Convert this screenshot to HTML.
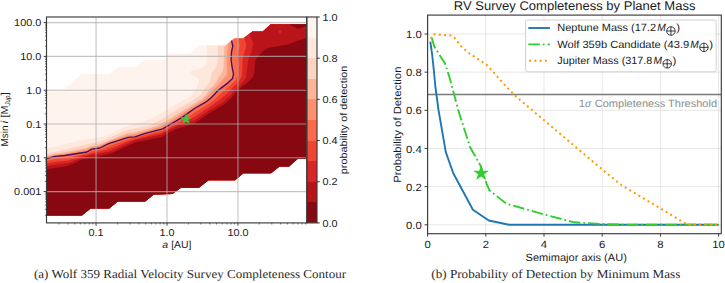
<!DOCTYPE html>
<html><head><meta charset="utf-8"><title>Wolf 359 RV completeness</title>
<style>html,body{margin:0;padding:0;background:#fff;overflow:hidden;}svg{display:block;}text{text-rendering:geometricPrecision;}text{font-family:"Liberation Sans",sans-serif;}</style>
</head><body>
<svg width="725" height="283" viewBox="0 0 725 283">
<rect width="725" height="283" fill="#fff"/>
<defs><clipPath id="cc"><polygon points="45.5,89.2 46.5,89.2 64.3,89.2 81.8,74.0 109.9,73.9 118.4,66.8 136.0,66.8 143.8,60.1 165.0,60.1 169.0,53.3 189.8,53.3 198.9,45.6 225.4,45.6 234.2,38.5 243.0,38.5 252.5,31.4 262.8,31.4 270.7,24.3 306.7,24.3 307.7,24.3 307.7,159.1 306.7,159.1 297.5,159.1 289.0,166.5 279.5,166.5 271.0,173.3 243.4,173.3 235.0,180.3 208.5,180.3 198.9,187.7 180.9,187.7 172.4,194.1 153.8,194.4 145.2,201.6 117.9,201.6 109.2,208.5 90.6,208.5 81.9,215.5 46.5,215.5 45.5,215.5"/></clipPath>
<clipPath id="la"><rect x="46.5" y="17.0" width="260.2" height="205.9"/></clipPath></defs>
<g clip-path="url(#la)"><g clip-path="url(#cc)">
<rect x="0" y="0" width="400" height="300" fill="#fff3ed"/>
<path d="M207.0 15.0L309.0 15.0L309.0 225.0L44.5 225.0L44.5 148.8L46.5 148.8L80.0 140.5L105.0 136.4L125.0 126.8L144.5 121.2L155.0 117.0L180.0 102.0L190.0 97.0L195.2 90.0L199.5 81.5L197.5 77.8L191.4 74.5L191.0 74.0L190.6 71.0L201.0 68.4L206.0 64.3L206.5 63.5L206.5 55.0L207.0 50.0L206.8 15.0Z" fill="#fee7dc"/>
<path d="M218.5 15.0L309.0 15.0L309.0 225.0L44.5 225.0L44.5 153.7L46.0 153.6L60.0 151.0L79.0 146.2L105.0 140.0L125.0 130.5L143.9 127.0L147.1 126.0L155.0 123.0L170.0 114.0L180.0 107.5L190.0 102.0L199.5 96.0L204.8 88.0L210.0 81.5L211.7 73.0L217.1 65.5L218.0 58.0L218.0 50.0L218.5 40.0L218.2 39.5L218.2 38.5L218.1 15.0Z" fill="#fdd3c1"/>
<path d="M218.5 15.0L309.0 15.0L309.0 225.0L44.5 225.0L44.5 155.6L46.0 155.7L47.5 155.5L55.0 153.8L63.8 152.5L85.5 148.0L90.0 146.2L98.5 144.5L105.5 142.0L109.5 140.2L126.0 133.6L133.5 132.5L145.8 129.5L156.5 126.0L161.0 124.0L171.9 117.5L182.5 110.7L202.3 98.5L206.0 94.5L215.5 83.1L219.2 76.5L222.0 73.3L223.5 68.0L223.9 51.5L224.5 46.0L224.1 39.5L223.5 36.3L222.0 32.1L220.0 28.5L218.5 26.5L218.4 15.0Z" fill="#fcb499"/>
<path d="M231.5 15.0L309.0 15.0L309.0 225.0L44.5 225.0L44.5 157.7L46.0 157.0L54.5 155.0L64.5 153.7L86.0 149.7L91.0 147.4L99.0 145.9L109.5 141.5L126.2 135.5L128.0 135.0L134.5 134.2L147.0 130.8L158.5 127.3L162.0 125.9L174.0 118.8L193.0 106.4L204.0 99.8L207.9 96.0L214.9 88.0L218.0 85.0L223.5 78.4L226.5 75.2L226.8 74.5L227.2 70.0L226.8 60.5L227.0 53.3L227.9 46.0L227.0 36.8L227.5 34.5L228.5 32.5L229.5 31.4L231.0 30.2L231.1 15.0Z" fill="#fc9070"/>
<path d="M231.5 15.0L309.0 15.0L309.0 225.0L44.5 225.0L44.5 158.8L46.5 158.7L55.0 156.4L66.0 155.3L86.7 152.0L91.5 149.3L99.5 148.0L109.0 143.4L127.0 137.8L128.5 137.4L135.8 136.5L144.5 133.6L162.0 129.0L176.1 121.0L182.5 117.0L194.5 108.5L205.5 102.3L209.1 99.5L214.8 94.0L217.5 90.9L228.2 82.5L232.3 78.5L232.6 78.0L233.5 74.0L232.1 67.0L231.1 60.0L231.5 52.0L232.8 46.0L231.3 37.5L231.3 15.0Z" fill="#fb6b4b"/>
<path d="M231.5 15.0L309.0 15.0L309.0 225.0L44.5 225.0L44.5 160.8L46.0 161.2L47.0 161.1L55.5 159.1L68.0 157.8L78.0 155.2L87.0 153.4L92.5 151.1L100.5 149.7L110.5 145.7L128.5 139.3L135.5 137.8L145.0 135.1L160.5 131.3L163.0 130.4L174.5 123.8L185.0 118.5L191.9 114.5L196.5 111.3L207.5 104.6L212.0 101.4L217.5 96.7L220.5 93.7L224.5 90.5L230.1 85.5L235.3 80.5L236.1 79.0L237.8 74.5L237.0 59.5L237.7 53.0L239.4 47.0L239.5 45.0L237.4 36.0L236.6 34.0L234.5 31.2L231.5 29.0L231.4 15.0Z" fill="#f14432"/>
<path d="M249.0 15.0L309.0 15.0L309.0 225.0L44.5 225.0L44.5 164.0L56.0 161.8L68.5 160.4L78.3 157.0L84.5 155.2L88.0 154.5L93.0 152.9L101.0 151.4L110.0 148.9L129.0 141.0L134.5 139.2L161.5 132.8L175.5 125.2L183.5 122.0L193.5 117.4L213.7 104.0L220.0 99.5L227.1 93.5L233.3 87.0L237.5 83.0L240.2 79.5L241.8 76.0L242.2 73.0L242.7 59.5L243.8 54.0L245.6 49.0L246.3 44.0L244.2 38.0L242.2 29.5L242.1 26.0L242.7 23.5L243.8 21.0L246.0 18.2L248.5 16.4L248.5 15.0Z" fill="#d92523"/>
<path d="M249.0 15.0L309.0 15.0L309.0 225.0L44.5 225.0L44.5 166.3L46.0 166.3L46.5 166.0L60.0 164.0L69.5 162.9L79.0 158.6L85.0 156.5L110.5 151.4L135.0 140.3L162.0 134.6L168.5 130.6L176.5 126.6L184.5 124.1L195.0 120.2L209.0 110.6L223.0 102.0L230.0 96.1L235.5 89.5L240.0 85.2L243.5 81.5L245.9 77.5L248.0 62.0L249.5 56.0L251.9 51.0L253.4 43.0L250.5 37.0L249.0 30.0L248.9 15.0Z" fill="#b81419"/>
<path d="M306.0 38.1L306.5 38.0L306.9 38.5L307.0 39.0L307.5 39.5L307.5 40.0L308.0 40.5L308.0 41.5L308.5 42.0L308.5 43.0L309.0 43.5L309.0 44.6L309.0 225.0L44.5 225.0L44.5 169.2L46.5 169.4L60.0 167.0L65.5 166.4L75.5 162.7L80.8 160.0L84.0 159.0L86.5 158.4L95.0 157.3L110.5 153.8L135.0 142.5L162.0 136.9L169.0 132.5L176.0 129.0L185.0 126.4L195.0 123.0L208.9 113.5L223.5 104.7L230.5 99.0L236.0 92.2L239.8 88.5L250.5 80.0L253.0 77.0L254.3 73.0L255.4 60.0L259.7 54.5L263.0 51.2L267.5 48.2L268.5 47.8L280.0 46.0L280.5 45.7L282.5 45.5L283.0 45.2L285.0 45.0L285.5 44.7L287.5 44.5L288.0 44.2L289.5 44.0L290.0 43.6L292.0 43.0L292.5 42.6L294.5 42.0L295.0 41.6L296.0 41.5L296.5 41.1L297.5 41.0L298.0 40.6L299.0 40.5L301.5 39.6L302.4 39.5L303.0 39.1L304.0 39.0L304.5 38.6L305.5 38.5Z" fill="#880811"/>
<polygon points="289,24.2 298,28.7 306.7,26 306.7,24" fill="#880811"/>
<polygon points="277.5,30.5 282.5,30.5 280,34" fill="#d92523"/>
</g>
<polyline points="46.5,158.7 55.1,156.3 64.7,155.5 86.9,152.0 91.7,149.2 99.6,148.0 109.2,143.3 128.3,137.4 135.0,136.8 144.5,133.6 154.0,131.2 162.8,128.8 169.2,124.9 176.3,120.9 182.7,116.9 194.5,108.5 205.6,102.2 209.9,98.9 214.8,94.0 217.6,90.8 222.6,86.9 228.2,82.6 232.5,78.4 233.5,74.1 232.1,67.1 231.1,60.0 231.5,52.0 232.8,46.0 231.5,40.6" fill="none" stroke="#45105e" stroke-width="1.35" stroke-linejoin="round"/>
<line x1="96.05" y1="17.0" x2="96.05" y2="222.9" stroke="#b0b0b0" stroke-opacity="0.75" stroke-width="1.1"/>
<line x1="167.00" y1="17.0" x2="167.00" y2="222.9" stroke="#b0b0b0" stroke-opacity="0.75" stroke-width="1.1"/>
<line x1="237.95" y1="17.0" x2="237.95" y2="222.9" stroke="#b0b0b0" stroke-opacity="0.75" stroke-width="1.1"/>
<line x1="46.5" y1="22.60" x2="306.7" y2="22.60" stroke="#b0b0b0" stroke-opacity="0.75" stroke-width="1.1"/>
<line x1="46.5" y1="56.40" x2="306.7" y2="56.40" stroke="#b0b0b0" stroke-opacity="0.75" stroke-width="1.1"/>
<line x1="46.5" y1="90.20" x2="306.7" y2="90.20" stroke="#b0b0b0" stroke-opacity="0.75" stroke-width="1.1"/>
<line x1="46.5" y1="124.00" x2="306.7" y2="124.00" stroke="#b0b0b0" stroke-opacity="0.75" stroke-width="1.1"/>
<line x1="46.5" y1="157.80" x2="306.7" y2="157.80" stroke="#b0b0b0" stroke-opacity="0.75" stroke-width="1.1"/>
<line x1="46.5" y1="191.60" x2="306.7" y2="191.60" stroke="#b0b0b0" stroke-opacity="0.75" stroke-width="1.1"/>
</g>
<polygon points="186.0,112.9 187.4,117.2 191.9,117.2 188.3,119.8 189.6,124.1 186.0,121.5 182.4,124.1 183.7,119.8 180.1,117.2 184.6,117.2" fill="#32cd32"/>
<rect x="46.5" y="17.0" width="260.2" height="205.9" fill="none" stroke="#3c3c3c" stroke-width="1.15"/>
<line x1="43.7" y1="22.60" x2="46.5" y2="22.60" stroke="#262626" stroke-width="0.9"/>
<line x1="43.7" y1="56.40" x2="46.5" y2="56.40" stroke="#262626" stroke-width="0.9"/>
<line x1="43.7" y1="90.20" x2="46.5" y2="90.20" stroke="#262626" stroke-width="0.9"/>
<line x1="43.7" y1="124.00" x2="46.5" y2="124.00" stroke="#262626" stroke-width="0.9"/>
<line x1="43.7" y1="157.80" x2="46.5" y2="157.80" stroke="#262626" stroke-width="0.9"/>
<line x1="43.7" y1="191.60" x2="46.5" y2="191.60" stroke="#262626" stroke-width="0.9"/>
<line x1="44.9" y1="215.23" x2="46.5" y2="215.23" stroke="#262626" stroke-width="0.6"/>
<line x1="44.9" y1="209.27" x2="46.5" y2="209.27" stroke="#262626" stroke-width="0.6"/>
<line x1="44.9" y1="205.05" x2="46.5" y2="205.05" stroke="#262626" stroke-width="0.6"/>
<line x1="44.9" y1="201.77" x2="46.5" y2="201.77" stroke="#262626" stroke-width="0.6"/>
<line x1="44.9" y1="199.10" x2="46.5" y2="199.10" stroke="#262626" stroke-width="0.6"/>
<line x1="44.9" y1="196.84" x2="46.5" y2="196.84" stroke="#262626" stroke-width="0.6"/>
<line x1="44.9" y1="194.88" x2="46.5" y2="194.88" stroke="#262626" stroke-width="0.6"/>
<line x1="44.9" y1="193.15" x2="46.5" y2="193.15" stroke="#262626" stroke-width="0.6"/>
<line x1="44.9" y1="181.43" x2="46.5" y2="181.43" stroke="#262626" stroke-width="0.6"/>
<line x1="44.9" y1="175.47" x2="46.5" y2="175.47" stroke="#262626" stroke-width="0.6"/>
<line x1="44.9" y1="171.25" x2="46.5" y2="171.25" stroke="#262626" stroke-width="0.6"/>
<line x1="44.9" y1="167.97" x2="46.5" y2="167.97" stroke="#262626" stroke-width="0.6"/>
<line x1="44.9" y1="165.30" x2="46.5" y2="165.30" stroke="#262626" stroke-width="0.6"/>
<line x1="44.9" y1="163.04" x2="46.5" y2="163.04" stroke="#262626" stroke-width="0.6"/>
<line x1="44.9" y1="161.08" x2="46.5" y2="161.08" stroke="#262626" stroke-width="0.6"/>
<line x1="44.9" y1="159.35" x2="46.5" y2="159.35" stroke="#262626" stroke-width="0.6"/>
<line x1="44.9" y1="147.63" x2="46.5" y2="147.63" stroke="#262626" stroke-width="0.6"/>
<line x1="44.9" y1="141.67" x2="46.5" y2="141.67" stroke="#262626" stroke-width="0.6"/>
<line x1="44.9" y1="137.45" x2="46.5" y2="137.45" stroke="#262626" stroke-width="0.6"/>
<line x1="44.9" y1="134.17" x2="46.5" y2="134.17" stroke="#262626" stroke-width="0.6"/>
<line x1="44.9" y1="131.50" x2="46.5" y2="131.50" stroke="#262626" stroke-width="0.6"/>
<line x1="44.9" y1="129.24" x2="46.5" y2="129.24" stroke="#262626" stroke-width="0.6"/>
<line x1="44.9" y1="127.28" x2="46.5" y2="127.28" stroke="#262626" stroke-width="0.6"/>
<line x1="44.9" y1="125.55" x2="46.5" y2="125.55" stroke="#262626" stroke-width="0.6"/>
<line x1="44.9" y1="113.83" x2="46.5" y2="113.83" stroke="#262626" stroke-width="0.6"/>
<line x1="44.9" y1="107.87" x2="46.5" y2="107.87" stroke="#262626" stroke-width="0.6"/>
<line x1="44.9" y1="103.65" x2="46.5" y2="103.65" stroke="#262626" stroke-width="0.6"/>
<line x1="44.9" y1="100.37" x2="46.5" y2="100.37" stroke="#262626" stroke-width="0.6"/>
<line x1="44.9" y1="97.70" x2="46.5" y2="97.70" stroke="#262626" stroke-width="0.6"/>
<line x1="44.9" y1="95.44" x2="46.5" y2="95.44" stroke="#262626" stroke-width="0.6"/>
<line x1="44.9" y1="93.48" x2="46.5" y2="93.48" stroke="#262626" stroke-width="0.6"/>
<line x1="44.9" y1="91.75" x2="46.5" y2="91.75" stroke="#262626" stroke-width="0.6"/>
<line x1="44.9" y1="80.03" x2="46.5" y2="80.03" stroke="#262626" stroke-width="0.6"/>
<line x1="44.9" y1="74.07" x2="46.5" y2="74.07" stroke="#262626" stroke-width="0.6"/>
<line x1="44.9" y1="69.85" x2="46.5" y2="69.85" stroke="#262626" stroke-width="0.6"/>
<line x1="44.9" y1="66.57" x2="46.5" y2="66.57" stroke="#262626" stroke-width="0.6"/>
<line x1="44.9" y1="63.90" x2="46.5" y2="63.90" stroke="#262626" stroke-width="0.6"/>
<line x1="44.9" y1="61.64" x2="46.5" y2="61.64" stroke="#262626" stroke-width="0.6"/>
<line x1="44.9" y1="59.68" x2="46.5" y2="59.68" stroke="#262626" stroke-width="0.6"/>
<line x1="44.9" y1="57.95" x2="46.5" y2="57.95" stroke="#262626" stroke-width="0.6"/>
<line x1="44.9" y1="46.23" x2="46.5" y2="46.23" stroke="#262626" stroke-width="0.6"/>
<line x1="44.9" y1="40.27" x2="46.5" y2="40.27" stroke="#262626" stroke-width="0.6"/>
<line x1="44.9" y1="36.05" x2="46.5" y2="36.05" stroke="#262626" stroke-width="0.6"/>
<line x1="44.9" y1="32.77" x2="46.5" y2="32.77" stroke="#262626" stroke-width="0.6"/>
<line x1="44.9" y1="30.10" x2="46.5" y2="30.10" stroke="#262626" stroke-width="0.6"/>
<line x1="44.9" y1="27.84" x2="46.5" y2="27.84" stroke="#262626" stroke-width="0.6"/>
<line x1="44.9" y1="25.88" x2="46.5" y2="25.88" stroke="#262626" stroke-width="0.6"/>
<line x1="44.9" y1="24.15" x2="46.5" y2="24.15" stroke="#262626" stroke-width="0.6"/>
<line x1="96.05" y1="222.9" x2="96.05" y2="225.7" stroke="#262626" stroke-width="0.9"/>
<line x1="167.00" y1="222.9" x2="167.00" y2="225.7" stroke="#262626" stroke-width="0.9"/>
<line x1="237.95" y1="222.9" x2="237.95" y2="225.7" stroke="#262626" stroke-width="0.9"/>
<line x1="58.95" y1="222.9" x2="58.95" y2="224.5" stroke="#262626" stroke-width="0.6"/>
<line x1="67.82" y1="222.9" x2="67.82" y2="224.5" stroke="#262626" stroke-width="0.6"/>
<line x1="74.69" y1="222.9" x2="74.69" y2="224.5" stroke="#262626" stroke-width="0.6"/>
<line x1="80.31" y1="222.9" x2="80.31" y2="224.5" stroke="#262626" stroke-width="0.6"/>
<line x1="85.06" y1="222.9" x2="85.06" y2="224.5" stroke="#262626" stroke-width="0.6"/>
<line x1="89.17" y1="222.9" x2="89.17" y2="224.5" stroke="#262626" stroke-width="0.6"/>
<line x1="92.80" y1="222.9" x2="92.80" y2="224.5" stroke="#262626" stroke-width="0.6"/>
<line x1="117.41" y1="222.9" x2="117.41" y2="224.5" stroke="#262626" stroke-width="0.6"/>
<line x1="129.90" y1="222.9" x2="129.90" y2="224.5" stroke="#262626" stroke-width="0.6"/>
<line x1="138.77" y1="222.9" x2="138.77" y2="224.5" stroke="#262626" stroke-width="0.6"/>
<line x1="145.64" y1="222.9" x2="145.64" y2="224.5" stroke="#262626" stroke-width="0.6"/>
<line x1="151.26" y1="222.9" x2="151.26" y2="224.5" stroke="#262626" stroke-width="0.6"/>
<line x1="156.01" y1="222.9" x2="156.01" y2="224.5" stroke="#262626" stroke-width="0.6"/>
<line x1="160.12" y1="222.9" x2="160.12" y2="224.5" stroke="#262626" stroke-width="0.6"/>
<line x1="163.75" y1="222.9" x2="163.75" y2="224.5" stroke="#262626" stroke-width="0.6"/>
<line x1="188.36" y1="222.9" x2="188.36" y2="224.5" stroke="#262626" stroke-width="0.6"/>
<line x1="200.85" y1="222.9" x2="200.85" y2="224.5" stroke="#262626" stroke-width="0.6"/>
<line x1="209.72" y1="222.9" x2="209.72" y2="224.5" stroke="#262626" stroke-width="0.6"/>
<line x1="216.59" y1="222.9" x2="216.59" y2="224.5" stroke="#262626" stroke-width="0.6"/>
<line x1="222.21" y1="222.9" x2="222.21" y2="224.5" stroke="#262626" stroke-width="0.6"/>
<line x1="226.96" y1="222.9" x2="226.96" y2="224.5" stroke="#262626" stroke-width="0.6"/>
<line x1="231.07" y1="222.9" x2="231.07" y2="224.5" stroke="#262626" stroke-width="0.6"/>
<line x1="234.70" y1="222.9" x2="234.70" y2="224.5" stroke="#262626" stroke-width="0.6"/>
<line x1="259.31" y1="222.9" x2="259.31" y2="224.5" stroke="#262626" stroke-width="0.6"/>
<line x1="271.80" y1="222.9" x2="271.80" y2="224.5" stroke="#262626" stroke-width="0.6"/>
<line x1="280.67" y1="222.9" x2="280.67" y2="224.5" stroke="#262626" stroke-width="0.6"/>
<line x1="287.54" y1="222.9" x2="287.54" y2="224.5" stroke="#262626" stroke-width="0.6"/>
<line x1="293.16" y1="222.9" x2="293.16" y2="224.5" stroke="#262626" stroke-width="0.6"/>
<line x1="297.91" y1="222.9" x2="297.91" y2="224.5" stroke="#262626" stroke-width="0.6"/>
<line x1="302.02" y1="222.9" x2="302.02" y2="224.5" stroke="#262626" stroke-width="0.6"/>
<line x1="305.65" y1="222.9" x2="305.65" y2="224.5" stroke="#262626" stroke-width="0.6"/>
<text x="41.30" y="26.35" font-size="10.07" text-anchor="end" fill="#1a1a1a" textLength="27.20" lengthAdjust="spacingAndGlyphs" style="font-family:&quot;Liberation Sans&quot;,sans-serif">100.0</text>
<text x="41.30" y="60.15" font-size="10.07" text-anchor="end" fill="#1a1a1a" textLength="21.15" lengthAdjust="spacingAndGlyphs" style="font-family:&quot;Liberation Sans&quot;,sans-serif">10.0</text>
<text x="41.30" y="93.95" font-size="10.07" text-anchor="end" fill="#1a1a1a" textLength="15.11" lengthAdjust="spacingAndGlyphs" style="font-family:&quot;Liberation Sans&quot;,sans-serif">1.0</text>
<text x="41.30" y="127.75" font-size="10.07" text-anchor="end" fill="#1a1a1a" textLength="15.11" lengthAdjust="spacingAndGlyphs" style="font-family:&quot;Liberation Sans&quot;,sans-serif">0.1</text>
<text x="41.30" y="161.55" font-size="10.07" text-anchor="end" fill="#1a1a1a" textLength="21.15" lengthAdjust="spacingAndGlyphs" style="font-family:&quot;Liberation Sans&quot;,sans-serif">0.01</text>
<text x="41.30" y="195.35" font-size="10.07" text-anchor="end" fill="#1a1a1a" textLength="27.20" lengthAdjust="spacingAndGlyphs" style="font-family:&quot;Liberation Sans&quot;,sans-serif">0.001</text>
<text x="96.05" y="235.90" font-size="10.07" text-anchor="middle" fill="#1a1a1a" textLength="15.11" lengthAdjust="spacingAndGlyphs" style="font-family:&quot;Liberation Sans&quot;,sans-serif">0.1</text>
<text x="167.00" y="235.90" font-size="10.07" text-anchor="middle" fill="#1a1a1a" textLength="15.11" lengthAdjust="spacingAndGlyphs" style="font-family:&quot;Liberation Sans&quot;,sans-serif">1.0</text>
<text x="237.95" y="235.90" font-size="10.07" text-anchor="middle" fill="#1a1a1a" textLength="21.15" lengthAdjust="spacingAndGlyphs" style="font-family:&quot;Liberation Sans&quot;,sans-serif">10.0</text>
<text x="162.20" y="248.00" font-size="10.07" text-anchor="start" fill="#1a1a1a" textLength="5.82" lengthAdjust="spacingAndGlyphs" font-style="italic" style="font-family:&quot;Liberation Sans&quot;,sans-serif">a</text>
<text x="171.20" y="248.20" font-size="10.07" text-anchor="start" fill="#1a1a1a" textLength="20.20" lengthAdjust="spacingAndGlyphs" style="font-family:&quot;Liberation Sans&quot;,sans-serif">[AU]</text>
<g transform="translate(8.4,146.5) rotate(-90)">
<text x="0.00" y="0.00" font-size="10.07" text-anchor="start" fill="#1a1a1a" textLength="21.00" lengthAdjust="spacingAndGlyphs" style="font-family:&quot;Liberation Sans&quot;,sans-serif">Msin</text>
<text x="23.00" y="0.00" font-size="10.07" text-anchor="start" fill="#1a1a1a" textLength="2.64" lengthAdjust="spacingAndGlyphs" font-style="italic" style="font-family:&quot;Liberation Sans&quot;,sans-serif">i</text>
<text x="29.00" y="0.00" font-size="10.07" text-anchor="start" fill="#1a1a1a" textLength="12.00" lengthAdjust="spacingAndGlyphs" style="font-family:&quot;Liberation Sans&quot;,sans-serif">[M</text>
<text x="41.00" y="1.90" font-size="7.25" text-anchor="start" fill="#1a1a1a" textLength="9.80" lengthAdjust="spacingAndGlyphs" font-style="italic" style="font-family:&quot;Liberation Sans&quot;,sans-serif">Jup</text>
<text x="51.00" y="0.00" font-size="10.07" text-anchor="start" fill="#1a1a1a" textLength="3.50" lengthAdjust="spacingAndGlyphs" style="font-family:&quot;Liberation Sans&quot;,sans-serif">]</text>
</g>
<defs><linearGradient id="cbg" x1="0" y1="0" x2="0" y2="1"><stop offset="0.0000" stop-color="#fff3ed"/><stop offset="0.1000" stop-color="#fff3ed"/><stop offset="0.1000" stop-color="#fee7dc"/><stop offset="0.2000" stop-color="#fee7dc"/><stop offset="0.2000" stop-color="#fdd3c1"/><stop offset="0.3000" stop-color="#fdd3c1"/><stop offset="0.3000" stop-color="#fcb499"/><stop offset="0.4000" stop-color="#fcb499"/><stop offset="0.4000" stop-color="#fc9070"/><stop offset="0.5000" stop-color="#fc9070"/><stop offset="0.5000" stop-color="#fb6b4b"/><stop offset="0.6000" stop-color="#fb6b4b"/><stop offset="0.6000" stop-color="#f14432"/><stop offset="0.7000" stop-color="#f14432"/><stop offset="0.7000" stop-color="#d92523"/><stop offset="0.8000" stop-color="#d92523"/><stop offset="0.8000" stop-color="#b81419"/><stop offset="0.9000" stop-color="#b81419"/><stop offset="0.9000" stop-color="#880811"/><stop offset="1.0000" stop-color="#880811"/></linearGradient></defs>
<rect x="307.0" y="17.00" width="10.0" height="205.90" fill="url(#cbg)"/>
<rect x="307.0" y="17.0" width="10.0" height="205.9" fill="none" stroke="#3c3c3c" stroke-width="1.15"/>
<line x1="317.0" y1="222.90" x2="319.8" y2="222.90" stroke="#262626" stroke-width="0.9"/>
<text x="322.40" y="226.65" font-size="10.07" text-anchor="start" fill="#1a1a1a" textLength="15.11" lengthAdjust="spacingAndGlyphs" style="font-family:&quot;Liberation Sans&quot;,sans-serif">0.0</text>
<line x1="317.0" y1="181.72" x2="319.8" y2="181.72" stroke="#262626" stroke-width="0.9"/>
<text x="322.40" y="185.47" font-size="10.07" text-anchor="start" fill="#1a1a1a" textLength="15.11" lengthAdjust="spacingAndGlyphs" style="font-family:&quot;Liberation Sans&quot;,sans-serif">0.2</text>
<line x1="317.0" y1="140.54" x2="319.8" y2="140.54" stroke="#262626" stroke-width="0.9"/>
<text x="322.40" y="144.29" font-size="10.07" text-anchor="start" fill="#1a1a1a" textLength="15.11" lengthAdjust="spacingAndGlyphs" style="font-family:&quot;Liberation Sans&quot;,sans-serif">0.4</text>
<line x1="317.0" y1="99.36" x2="319.8" y2="99.36" stroke="#262626" stroke-width="0.9"/>
<text x="322.40" y="103.11" font-size="10.07" text-anchor="start" fill="#1a1a1a" textLength="15.11" lengthAdjust="spacingAndGlyphs" style="font-family:&quot;Liberation Sans&quot;,sans-serif">0.6</text>
<line x1="317.0" y1="58.18" x2="319.8" y2="58.18" stroke="#262626" stroke-width="0.9"/>
<text x="322.40" y="61.93" font-size="10.07" text-anchor="start" fill="#1a1a1a" textLength="15.11" lengthAdjust="spacingAndGlyphs" style="font-family:&quot;Liberation Sans&quot;,sans-serif">0.8</text>
<line x1="317.0" y1="17.00" x2="319.8" y2="17.00" stroke="#262626" stroke-width="0.9"/>
<text x="322.40" y="20.75" font-size="10.07" text-anchor="start" fill="#1a1a1a" textLength="15.11" lengthAdjust="spacingAndGlyphs" style="font-family:&quot;Liberation Sans&quot;,sans-serif">1.0</text>
<g transform="translate(347.3,120) rotate(-90)"><text x="0.00" y="0.00" font-size="9.86" text-anchor="middle" fill="#1a1a1a" textLength="108.42" lengthAdjust="spacingAndGlyphs" style="font-family:&quot;Liberation Sans&quot;,sans-serif">probability of detection</text></g>
<defs><clipPath id="ra"><rect x="427.6" y="15.1" width="293.7" height="218.6"/></clipPath></defs>
<g clip-path="url(#ra)">
<line x1="427.60" y1="15.1" x2="427.60" y2="233.7" stroke="#b0b0b0" stroke-opacity="0.35" stroke-width="0.9"/>
<line x1="485.80" y1="15.1" x2="485.80" y2="233.7" stroke="#b0b0b0" stroke-opacity="0.35" stroke-width="0.9"/>
<line x1="544.00" y1="15.1" x2="544.00" y2="233.7" stroke="#b0b0b0" stroke-opacity="0.35" stroke-width="0.9"/>
<line x1="602.20" y1="15.1" x2="602.20" y2="233.7" stroke="#b0b0b0" stroke-opacity="0.35" stroke-width="0.9"/>
<line x1="660.40" y1="15.1" x2="660.40" y2="233.7" stroke="#b0b0b0" stroke-opacity="0.35" stroke-width="0.9"/>
<line x1="718.60" y1="15.1" x2="718.60" y2="233.7" stroke="#b0b0b0" stroke-opacity="0.35" stroke-width="0.9"/>
<line x1="427.6" y1="224.80" x2="721.3" y2="224.80" stroke="#b0b0b0" stroke-opacity="0.35" stroke-width="0.9"/>
<line x1="427.6" y1="186.64" x2="721.3" y2="186.64" stroke="#b0b0b0" stroke-opacity="0.35" stroke-width="0.9"/>
<line x1="427.6" y1="148.48" x2="721.3" y2="148.48" stroke="#b0b0b0" stroke-opacity="0.35" stroke-width="0.9"/>
<line x1="427.6" y1="110.32" x2="721.3" y2="110.32" stroke="#b0b0b0" stroke-opacity="0.35" stroke-width="0.9"/>
<line x1="427.6" y1="72.16" x2="721.3" y2="72.16" stroke="#b0b0b0" stroke-opacity="0.35" stroke-width="0.9"/>
<line x1="427.6" y1="34.00" x2="721.3" y2="34.00" stroke="#b0b0b0" stroke-opacity="0.35" stroke-width="0.9"/>
<line x1="427.6" y1="94.5" x2="721.3" y2="94.5" stroke="#7a7a7a" stroke-width="1.4"/>

<polyline points="430.3,41.6 432.2,55.0 433.8,70.0 435.4,87.0 438.5,110.0 445.8,152.1 453.3,173.3 472.9,209.7 488.8,220.5 509.0,224.8 718.6,224.8" fill="none" stroke="#1f77b4" stroke-width="1.9" stroke-linejoin="round"/>
<polyline points="431.6,37.5 434.5,47.0 445.0,63.5 449.7,78.0 458.2,110.0 470.0,147.0 480.4,165.4 486.8,184.5 489.5,190.3 506.3,203.7 544.4,214.5 574.0,222.3 600.0,223.9 623.0,224.6 640.0,224.8 718.6,224.8" fill="none" stroke="#32cd32" stroke-width="1.9" stroke-dasharray="11.5,3,1.8,3"/>
<polyline points="430.8,38.7 433.4,34.2 451.0,35.5 454.0,37.0 461.0,46.2 468.8,53.0 487.0,65.0 505.0,85.4 516.7,97.1 541.4,118.0 600.0,167.6 621.0,184.8 687.6,224.8 718.6,224.8" fill="none" stroke="#ff9900" stroke-width="2" stroke-dasharray="2,3.3"/>
</g>
<polygon points="481.1,165.0 483.0,170.7 489.0,170.7 484.1,174.3 486.0,180.0 481.1,176.5 476.2,180.0 478.1,174.3 473.2,170.7 479.2,170.7" fill="#32cd32"/>
<text x="717.10" y="106.80" font-size="10.49" text-anchor="end" fill="#8c8c8c" textLength="122.33" lengthAdjust="spacingAndGlyphs" style="font-family:&quot;Liberation Sans&quot;,sans-serif">Completeness Threshold</text>
<text x="584.90" y="106.80" font-size="10.49" text-anchor="start" fill="#8c8c8c" textLength="6.27" lengthAdjust="spacingAndGlyphs" font-style="italic" style="font-family:&quot;Liberation Sans&quot;,sans-serif">σ</text>
<text x="578.70" y="106.80" font-size="10.49" text-anchor="start" fill="#8c8c8c" textLength="6.30" lengthAdjust="spacingAndGlyphs" style="font-family:&quot;Liberation Sans&quot;,sans-serif">1</text>
<rect x="525.6" y="20.0" width="190.6" height="51.8" rx="2" ry="2" fill="#fff" fill-opacity="0.8" stroke="#cccccc" stroke-width="0.9"/>
<line x1="528.3" y1="28.0" x2="549.9" y2="28.0" stroke="#1f77b4" stroke-width="1.9"/>
<line x1="528.3" y1="44.4" x2="549.9" y2="44.4" stroke="#32cd32" stroke-width="1.9" stroke-dasharray="11.5,3,1.8,3"/>
<line x1="529" y1="60.8" x2="549.9" y2="60.8" stroke="#ff9900" stroke-width="2" stroke-dasharray="2,3.3"/>
<text x="557.30" y="31.30" font-size="10.43" text-anchor="start" fill="#1a1a1a" textLength="98.82" lengthAdjust="spacingAndGlyphs" style="font-family:&quot;Liberation Sans&quot;,sans-serif">Neptune Mass (17.2</text><text x="657.32" y="31.30" font-size="10.43" text-anchor="start" fill="#1a1a1a" textLength="8.49" lengthAdjust="spacingAndGlyphs" font-style="italic" style="font-family:&quot;Liberation Sans&quot;,sans-serif">M</text><circle cx="670.91" cy="31.00" r="4.25" fill="none" stroke="#1a1a1a" stroke-width="0.85"/><line x1="666.66" y1="31.00" x2="675.16" y2="31.00" stroke="#1a1a1a" stroke-width="0.85"/><line x1="670.91" y1="26.75" x2="670.91" y2="35.25" stroke="#1a1a1a" stroke-width="0.85"/><text x="676.21" y="31.30" font-size="10.43" text-anchor="start" fill="#1a1a1a" textLength="3.84" lengthAdjust="spacingAndGlyphs" style="font-family:&quot;Liberation Sans&quot;,sans-serif">)</text>
<text x="557.30" y="47.70" font-size="10.43" text-anchor="start" fill="#1a1a1a" textLength="131.84" lengthAdjust="spacingAndGlyphs" style="font-family:&quot;Liberation Sans&quot;,sans-serif">Wolf 359b Candidate (43.9</text><text x="690.34" y="47.70" font-size="10.43" text-anchor="start" fill="#1a1a1a" textLength="8.49" lengthAdjust="spacingAndGlyphs" font-style="italic" style="font-family:&quot;Liberation Sans&quot;,sans-serif">M</text><circle cx="703.93" cy="47.40" r="4.25" fill="none" stroke="#1a1a1a" stroke-width="0.85"/><line x1="699.68" y1="47.40" x2="708.18" y2="47.40" stroke="#1a1a1a" stroke-width="0.85"/><line x1="703.93" y1="43.15" x2="703.93" y2="51.65" stroke="#1a1a1a" stroke-width="0.85"/><text x="709.23" y="47.70" font-size="10.43" text-anchor="start" fill="#1a1a1a" textLength="3.84" lengthAdjust="spacingAndGlyphs" style="font-family:&quot;Liberation Sans&quot;,sans-serif">)</text>
<text x="557.30" y="64.10" font-size="10.43" text-anchor="start" fill="#1a1a1a" textLength="95.11" lengthAdjust="spacingAndGlyphs" style="font-family:&quot;Liberation Sans&quot;,sans-serif">Jupiter Mass (317.8</text><text x="653.61" y="64.10" font-size="10.43" text-anchor="start" fill="#1a1a1a" textLength="8.49" lengthAdjust="spacingAndGlyphs" font-style="italic" style="font-family:&quot;Liberation Sans&quot;,sans-serif">M</text><circle cx="667.20" cy="63.80" r="4.25" fill="none" stroke="#1a1a1a" stroke-width="0.85"/><line x1="662.95" y1="63.80" x2="671.45" y2="63.80" stroke="#1a1a1a" stroke-width="0.85"/><line x1="667.20" y1="59.55" x2="667.20" y2="68.05" stroke="#1a1a1a" stroke-width="0.85"/><text x="672.50" y="64.10" font-size="10.43" text-anchor="start" fill="#1a1a1a" textLength="3.84" lengthAdjust="spacingAndGlyphs" style="font-family:&quot;Liberation Sans&quot;,sans-serif">)</text>
<rect x="427.6" y="15.1" width="293.7" height="218.6" fill="none" stroke="#3c3c3c" stroke-width="1.15"/>
<line x1="427.60" y1="233.7" x2="427.60" y2="236.7" stroke="#262626" stroke-width="0.9"/>
<text x="427.60" y="248.40" font-size="10.49" text-anchor="middle" fill="#1a1a1a" textLength="6.30" lengthAdjust="spacingAndGlyphs" style="font-family:&quot;Liberation Sans&quot;,sans-serif">0</text>
<line x1="485.80" y1="233.7" x2="485.80" y2="236.7" stroke="#262626" stroke-width="0.9"/>
<text x="485.80" y="248.40" font-size="10.49" text-anchor="middle" fill="#1a1a1a" textLength="6.30" lengthAdjust="spacingAndGlyphs" style="font-family:&quot;Liberation Sans&quot;,sans-serif">2</text>
<line x1="544.00" y1="233.7" x2="544.00" y2="236.7" stroke="#262626" stroke-width="0.9"/>
<text x="544.00" y="248.40" font-size="10.49" text-anchor="middle" fill="#1a1a1a" textLength="6.30" lengthAdjust="spacingAndGlyphs" style="font-family:&quot;Liberation Sans&quot;,sans-serif">4</text>
<line x1="602.20" y1="233.7" x2="602.20" y2="236.7" stroke="#262626" stroke-width="0.9"/>
<text x="602.20" y="248.40" font-size="10.49" text-anchor="middle" fill="#1a1a1a" textLength="6.30" lengthAdjust="spacingAndGlyphs" style="font-family:&quot;Liberation Sans&quot;,sans-serif">6</text>
<line x1="660.40" y1="233.7" x2="660.40" y2="236.7" stroke="#262626" stroke-width="0.9"/>
<text x="660.40" y="248.40" font-size="10.49" text-anchor="middle" fill="#1a1a1a" textLength="6.30" lengthAdjust="spacingAndGlyphs" style="font-family:&quot;Liberation Sans&quot;,sans-serif">8</text>
<line x1="718.60" y1="233.7" x2="718.60" y2="236.7" stroke="#262626" stroke-width="0.9"/>
<text x="718.60" y="248.40" font-size="10.49" text-anchor="middle" fill="#1a1a1a" textLength="12.60" lengthAdjust="spacingAndGlyphs" style="font-family:&quot;Liberation Sans&quot;,sans-serif">10</text>
<line x1="424.6" y1="224.80" x2="427.6" y2="224.80" stroke="#262626" stroke-width="0.9"/>
<text x="421.80" y="228.90" font-size="10.49" text-anchor="end" fill="#1a1a1a" textLength="15.74" lengthAdjust="spacingAndGlyphs" style="font-family:&quot;Liberation Sans&quot;,sans-serif">0.0</text>
<line x1="424.6" y1="186.64" x2="427.6" y2="186.64" stroke="#262626" stroke-width="0.9"/>
<text x="421.80" y="190.74" font-size="10.49" text-anchor="end" fill="#1a1a1a" textLength="15.74" lengthAdjust="spacingAndGlyphs" style="font-family:&quot;Liberation Sans&quot;,sans-serif">0.2</text>
<line x1="424.6" y1="148.48" x2="427.6" y2="148.48" stroke="#262626" stroke-width="0.9"/>
<text x="421.80" y="152.58" font-size="10.49" text-anchor="end" fill="#1a1a1a" textLength="15.74" lengthAdjust="spacingAndGlyphs" style="font-family:&quot;Liberation Sans&quot;,sans-serif">0.4</text>
<line x1="424.6" y1="110.32" x2="427.6" y2="110.32" stroke="#262626" stroke-width="0.9"/>
<text x="421.80" y="114.42" font-size="10.49" text-anchor="end" fill="#1a1a1a" textLength="15.74" lengthAdjust="spacingAndGlyphs" style="font-family:&quot;Liberation Sans&quot;,sans-serif">0.6</text>
<line x1="424.6" y1="72.16" x2="427.6" y2="72.16" stroke="#262626" stroke-width="0.9"/>
<text x="421.80" y="76.26" font-size="10.49" text-anchor="end" fill="#1a1a1a" textLength="15.74" lengthAdjust="spacingAndGlyphs" style="font-family:&quot;Liberation Sans&quot;,sans-serif">0.8</text>
<line x1="424.6" y1="34.00" x2="427.6" y2="34.00" stroke="#262626" stroke-width="0.9"/>
<text x="421.80" y="38.10" font-size="10.49" text-anchor="end" fill="#1a1a1a" textLength="15.74" lengthAdjust="spacingAndGlyphs" style="font-family:&quot;Liberation Sans&quot;,sans-serif">1.0</text>
<text x="574.60" y="9.70" font-size="12.57" text-anchor="middle" fill="#1a1a1a" textLength="241.72" lengthAdjust="spacingAndGlyphs" style="font-family:&quot;Liberation Sans&quot;,sans-serif">RV Survey Completeness by Planet Mass</text>
<text x="576.20" y="260.60" font-size="10.49" text-anchor="middle" fill="#1a1a1a" textLength="101.23" lengthAdjust="spacingAndGlyphs" style="font-family:&quot;Liberation Sans&quot;,sans-serif">Semimajor axis (AU)</text>
<g transform="translate(400.6,124.7) rotate(-90)"><text x="0.00" y="0.00" font-size="10.49" text-anchor="middle" fill="#1a1a1a" textLength="116.26" lengthAdjust="spacingAndGlyphs" style="font-family:&quot;Liberation Sans&quot;,sans-serif">Probability of Detection</text></g>
<text x="34.00" y="278.30" font-size="12.20" text-anchor="start" fill="#2b2b2b" textLength="312.00" lengthAdjust="spacingAndGlyphs" style="font-family:&quot;Liberation Serif&quot;,serif">(a) Wolf 359 Radial Velocity Survey Completeness Contour</text>
<text x="431.30" y="278.30" font-size="12.20" text-anchor="start" fill="#2b2b2b" textLength="249.00" lengthAdjust="spacingAndGlyphs" style="font-family:&quot;Liberation Serif&quot;,serif">(b) Probability of Detection by Minimum Mass</text>
</svg>
</body></html>
